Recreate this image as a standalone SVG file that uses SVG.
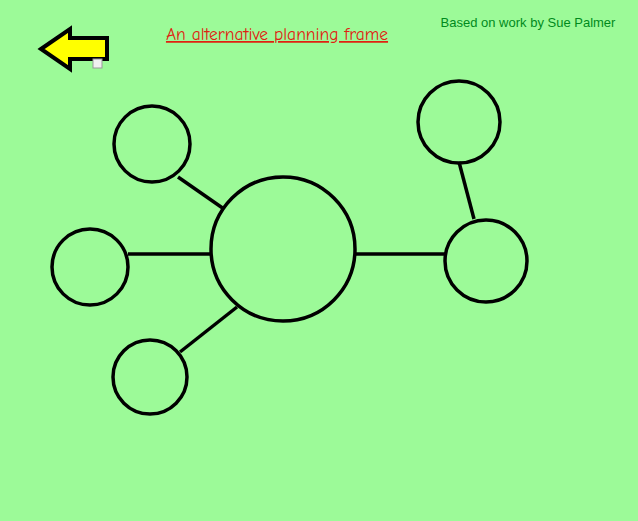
<svg xmlns="http://www.w3.org/2000/svg" width="638" height="521" viewBox="0 0 638 521">
<style>
.n{fill:none;stroke:#000;stroke-width:3.5}
.c line{stroke:#000;stroke-width:3.5}
</style>
<rect width="638" height="521" fill="#9cfa98"/>
<g id="back-arrow">
<polygon points="41,49 70,29 70,38 107,38 107,59 70,59 70,69" fill="#ffff00" stroke="#000" stroke-width="4" stroke-linejoin="miter"/>
<rect x="93" y="59" width="9" height="9" fill="#f0f0f0" stroke="#999" stroke-width="1"/>
</g>
<g id="title">
<text x="277" y="40" text-anchor="middle" font-family="'Comic Neue','DejaVu Sans',sans-serif" font-size="17.5" fill="#e02010" text-decoration="underline">An alternative planning frame</text>
</g>
<g id="credit">
<text x="528" y="27" text-anchor="middle" font-family="'Liberation Sans',Arial,sans-serif" font-size="13" fill="#008a1c">Based on work by Sue Palmer</text>
</g>
<g class="c" id="connectors">
<line x1="178" y1="177" x2="224" y2="209"/>
<line x1="128" y1="254" x2="211" y2="254"/>
<line x1="180" y1="352" x2="237" y2="307"/>
<line x1="355" y1="254" x2="445" y2="254"/>
<line x1="459" y1="162" x2="474" y2="219"/>
</g>
<g id="center"><circle class="n" cx="283" cy="249" r="72"/></g>
<g id="top-left"><circle class="n" cx="152" cy="144" r="38"/></g>
<g id="left"><circle class="n" cx="90" cy="267" r="38"/></g>
<g id="bottom-left"><circle class="n" cx="150" cy="377" r="37"/></g>
<g id="top-right"><circle class="n" cx="459" cy="122" r="41"/></g>
<g id="right"><circle class="n" cx="486" cy="261" r="41"/></g>
</svg>
